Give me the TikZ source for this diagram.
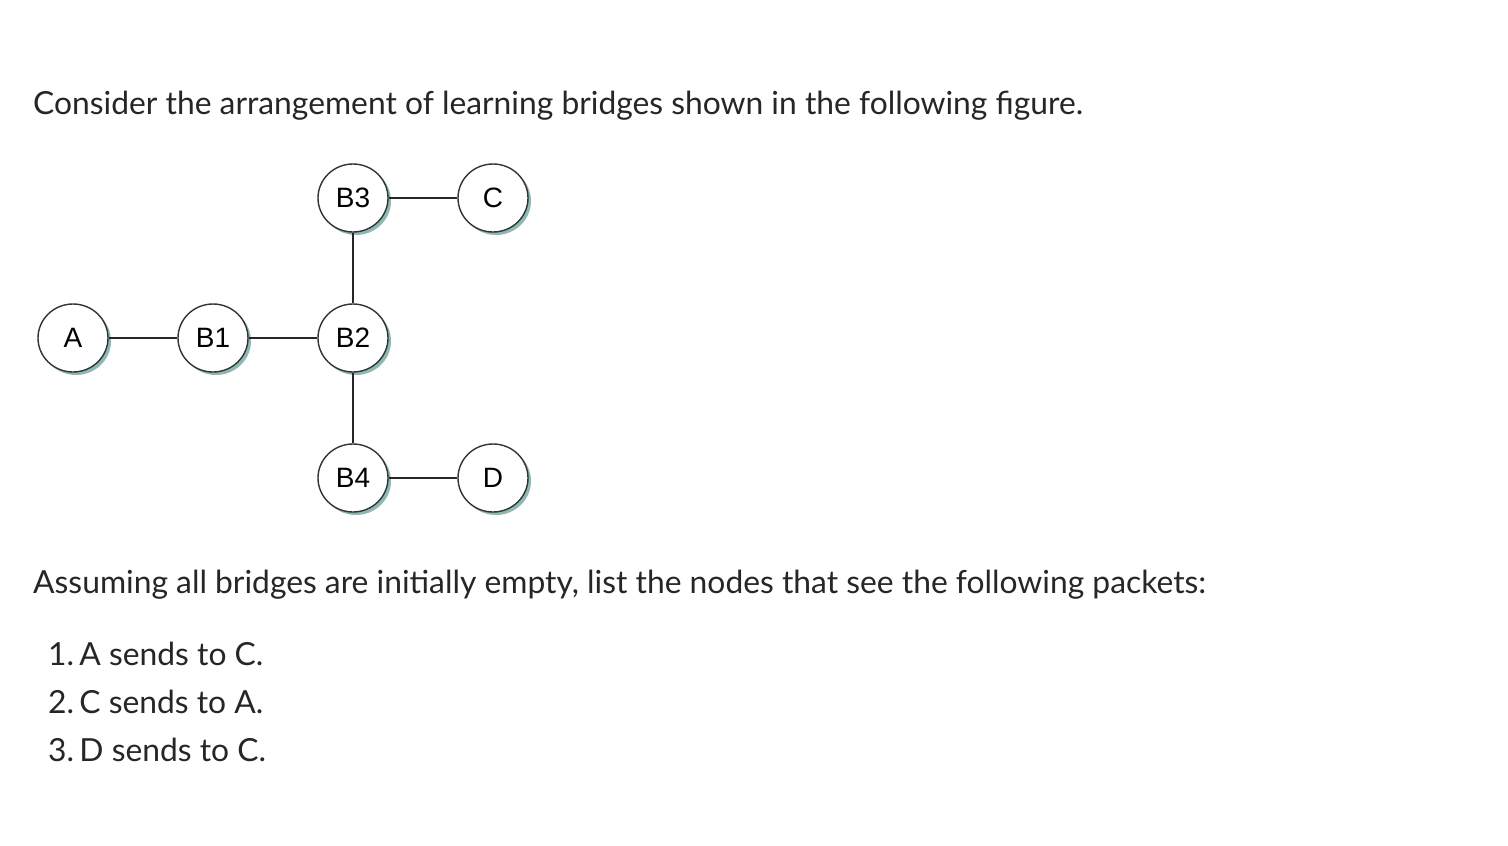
\documentclass[tikz,border=0pt]{standalone}
\usepackage{fontspec}
\setmainfont{Lato}
\newfontfamily\nodefont{Liberation Sans}
\usetikzlibrary{shadows,shapes.geometric}
\definecolor{shad}{HTML}{6FA8A0}
\tikzset{nd/.style={ellipse,draw=black!80,line width=1.4pt,fill=white,minimum width=70pt,minimum height=68pt,inner sep=0pt,font=\nodefont\fontsize{28}{28}\selectfont,
  drop shadow={shadow xshift=3pt,shadow yshift=-3pt,fill=shad,opacity=0.8}},
  ln/.style={line width=1.2pt,black!85},
  txt/.style={anchor=base west,inner sep=0pt,font=\fontsize{31.8}{36}\selectfont,text=black!85}}
\begin{document}
\begin{tikzpicture}[x=1pt,y=-1pt]
\useasboundingbox (0,0) rectangle (1508,846);
\node[txt] (t1) at (33,114) {Consider the arrangement of learning bridges shown in the following figure.};
\node[nd] (B3) at (353,198) {B3};
\node[nd] (C) at (493,198) {C};
\node[nd] (A) at (73,338) {A};
\node[nd] (B1) at (213,338) {B1};
\node[nd] (B2) at (353,338) {B2};
\node[nd] (B4) at (353,478) {B4};
\node[nd] (D) at (493,478) {D};
\draw[ln] (B3) -- (C);
\draw[ln] (B3) -- (B2);
\draw[ln] (A) -- (B1);
\draw[ln] (B1) -- (B2);
\draw[ln] (B2) -- (B4);
\draw[ln] (B4) -- (D);
\node[txt] (t2) at (33,593) {Assuming all bridges are initially empty, list the nodes that see the following packets:};
\node[txt] (l1) at (48,665) {1.\,A sends to C.};
\node[txt] (l2) at (48,713) {2.\,C sends to A.};
\node[txt] (l3) at (48,761) {3.\,D sends to C.};
\end{tikzpicture}
\end{document}
